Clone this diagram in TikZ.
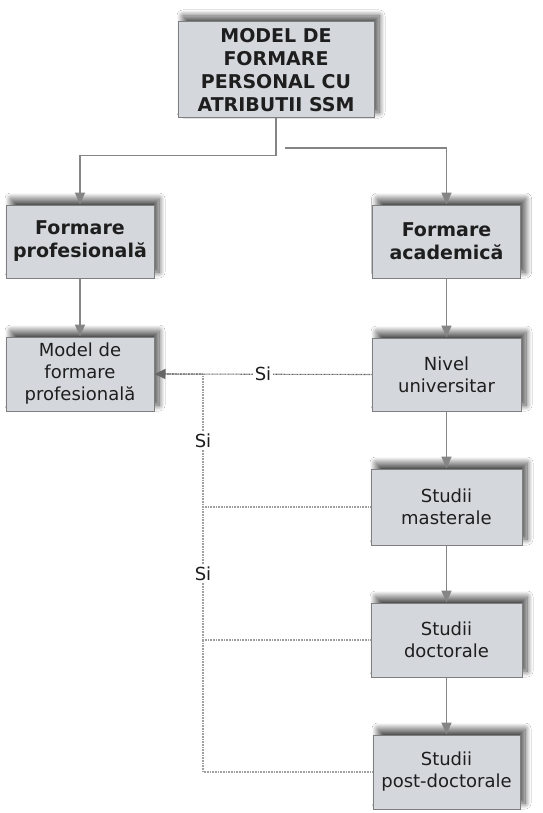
\documentclass[tikz,border=0pt]{standalone}
\usepackage{fontspec}
\setmainfont{DejaVu Sans}
\usetikzlibrary{arrows.meta,shadows.blur}
\definecolor{boxfill}{HTML}{D4D8DD}
\definecolor{boxline}{HTML}{7F7F7F}
\definecolor{connc}{HTML}{858585}
\definecolor{dotc}{HTML}{A0A0A0}
\definecolor{txt}{HTML}{1E1E1E}
\begin{document}
\begin{tikzpicture}[x=1pt,y=-1pt,
  box/.style={draw=boxline, line width=1pt, fill=boxfill, align=center, inner sep=0pt,
    text=txt, font=\fontsize{18}{22}\selectfont,
    blur shadow={shadow xshift=5pt, shadow yshift=6pt, shadow blur steps=30,
      shadow blur radius=6pt, shadow opacity=70}},
  boldbox/.style={box, font=\fontsize{19}{23}\selectfont\bfseries},
  conn/.style={draw=connc, line width=1.6pt, -{Triangle[width=10pt,length=12pt]}},
  dotline/.style={draw=dotc, line width=1.1pt, dash pattern=on 1pt off 0.6pt},
  si/.style={fill=white, inner sep=1.5pt, text=txt, font=\fontsize{18}{20}\selectfont}
]
\fill[white] (0,0) rectangle (542,813);
\useasboundingbox (0,0) rectangle (542,813);

\node[boldbox, minimum width=196pt, minimum height=96pt] (top) at (276,70)
  {MODEL DE\\FORMARE\\PERSONAL CU\\ATRIBUTII SSM};
\node[boldbox, minimum width=148pt, minimum height=73pt] (fp) at (80,241.5)
  {Formare\\profesională};
\node[boldbox, minimum width=148pt, minimum height=73pt] (fa) at (446.5,241.5)
  {Formare\\academică};
\node[box, minimum width=148pt, minimum height=74pt] (model) at (80,374)
  {Model de\\formare\\profesională};
\node[box, minimum width=149pt, minimum height=73pt] (nivel) at (446.5,374.5)
  {Nivel\\universitar};
\node[box, minimum width=151pt, minimum height=76pt] (mast) at (446.5,507)
  {Studii\\masterale};
\node[box, minimum width=151pt, minimum height=74pt] (doc) at (446.5,640)
  {Studii\\doctorale};
\node[box, minimum width=147pt, minimum height=74pt] (post) at (446.5,772)
  {Studii\\post-doctorale};

\coordinate (rb) at (285,148);
\draw[conn] (top.south) -- ++(0,37) -| (fp.north);
\draw[conn] (rb) -| (fa.north);
\draw[conn] (fp.south) -- (model.north);
\draw[conn] (fa.south) -- (nivel.north);
\draw[conn] (nivel.south) -- (mast.north);
\draw[conn] (mast.south) -- (doc.north);
\draw[conn] (doc.south) -- (post.north);

\coordinate (j) at (203,374);
\coordinate (jm) at (203,507);
\coordinate (jd) at (203,640);
\coordinate (jp) at (203,772);
\draw[dotline] (post.west) -- (jp) -- (jd);
\draw[dotline] (doc.west) -- (jd) -- node[si]{Si} (jm);
\draw[dotline] (mast.west) -- (jm) -- node[si]{Si} (j);
\draw[dotline, line width=2.5pt] (j) -- ([xshift=10pt]model.east);
\draw[dotline, -{Triangle[width=10pt,length=11pt,fill=gray!80!black]}, draw=gray!80!black] (nivel.west) -- node[si, pos=0.5]{Si} (model.east);
\end{tikzpicture}
\end{document}
